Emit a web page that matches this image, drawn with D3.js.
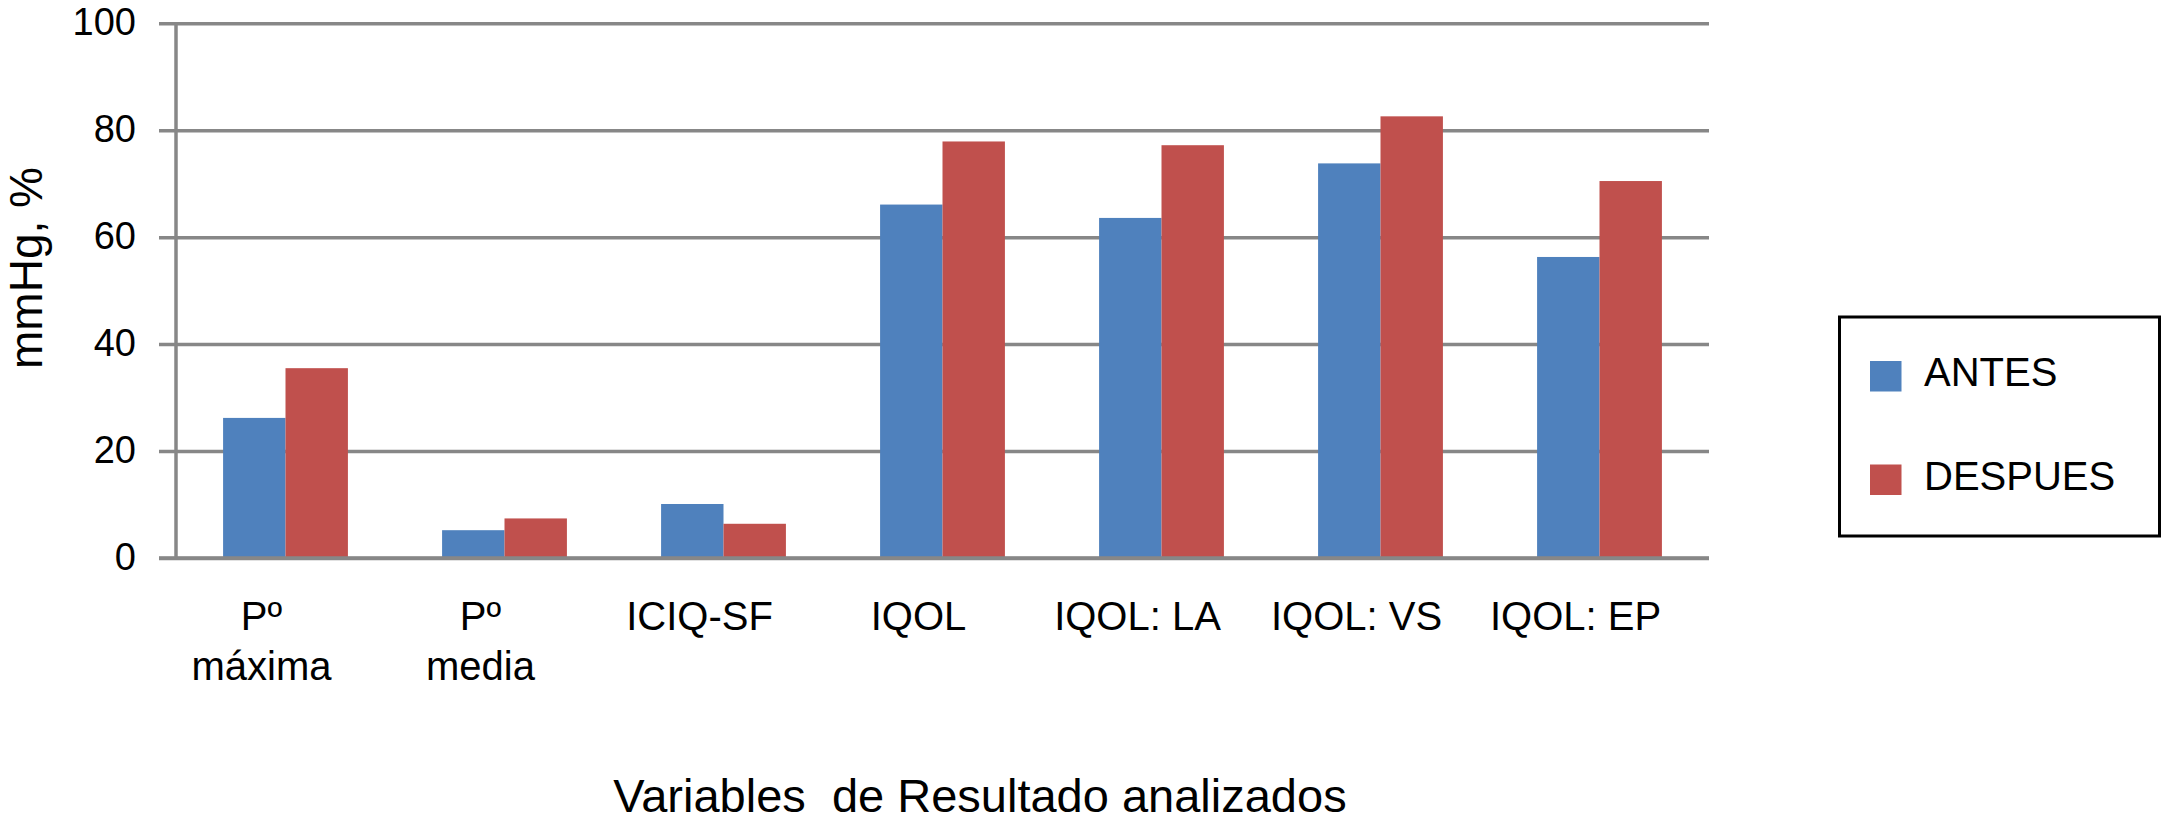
<!DOCTYPE html>
<html>
<head>
<meta charset="utf-8">
<script src="https://cdn.jsdelivr.net/npm/d3@7"></script>
<style>
  body { margin: 0; background: #fff; }
  text { font-family: "Liberation Sans", Arial, Helvetica, sans-serif; fill: #000; }
</style>
</head>
<body>
<script>
// categories (line breaks as in the original labels)
var categories = ["Pº\nmáxima", "Pº\nmedia", "ICIQ-SF", "IQOL", "IQOL: LA", "IQOL: VS", "IQOL: EP"];
var series = ["ANTES", "DESPUES"];
var antes   = [26.2, 5.2, 10.1, 66.1, 63.6, 73.8, 56.3];
var despues = [35.5, 7.4,  6.4, 77.9, 77.2, 82.6, 70.5];
var yTicks = [0, 20, 40, 60, 80, 100];
var colors = ["#4f81bd", "#c0504d"];

var W = 2162, H = 825;
/* plot edges (note: "top" would clash with window.top) */
var plotL = 176, plotR = 1709, plotT = 23.3, plotB = 558;

var svg = d3.select("body").append("svg")
    .attr("width", W)
    .attr("height", H);

var x0 = d3.scaleBand().domain(categories).range([plotL, plotR])
    .paddingInner(0.43).paddingOuter(0.215);
var x1 = d3.scaleBand().domain(series).range([0, x0.bandwidth()]);
var y = d3.scaleLinear().domain([0, 100]).range([plotB, plotT]);

/* gridlines + tick labels (axis sits at the right edge, ticks run left past the y axis) */
var gy = svg.append("g")
    .attr("transform", "translate(" + plotR + ",0)")
    .call(d3.axisLeft(y).tickValues(yTicks).tickSize(plotR - 159).tickPadding(23));
gy.select(".domain").remove();
gy.selectAll(".tick line").attr("stroke", "#878787").attr("stroke-width", 3.5);
gy.selectAll(".tick text")
    .attr("font-size", 38)
    .attr("dy", "0.3em")
    .style("font-family", '"Liberation Sans", Arial, sans-serif');

/* bars */
var rows = categories.map(function(c, i) { return {cat: c, vals: [antes[i], despues[i]]}; });
var grp = svg.selectAll(".grp").data(rows).enter().append("g")
    .attr("transform", function(d) { return "translate(" + x0(d.cat) + ",0)"; });
grp.selectAll("rect")
    .data(function(d) { return d.vals.map(function(v, j) { return {s: series[j], v: v, j: j}; }); })
    .enter().append("rect")
    .attr("x", function(d) { return x1(d.s); })
    .attr("y", function(d) { return y(d.v); })
    .attr("width", x1.bandwidth())
    .attr("height", function(d) { return y(0) - y(d.v); })
    .attr("fill", function(d) { return colors[d.j]; });

/* vertical axis line and baseline on top of bars */
svg.append("line")
    .attr("x1", plotL).attr("x2", plotL)
    .attr("y1", y(100)).attr("y2", y(0))
    .attr("stroke", "#878787").attr("stroke-width", 3.5);
svg.append("line")
    .attr("x1", 159).attr("x2", plotR)
    .attr("y1", y(0)).attr("y2", y(0))
    .attr("stroke", "#878787").attr("stroke-width", 3.5);

/* category labels */
var gx = svg.append("g")
    .attr("transform", "translate(-24," + plotB + ")")
    .call(d3.axisBottom(x0).tickSize(0).tickPadding(0));
gx.select(".domain").remove();
gx.selectAll(".tick text").each(function(d) {
    var t = d3.select(this).text(null)
        .attr("font-size", 40)
        .attr("y", 0)
        .attr("dy", null)
        .style("font-family", '"Liberation Sans", Arial, sans-serif');
    d.split("\n").forEach(function(line, k) {
        t.append("tspan").attr("x", 0).attr("y", 72 + k * 50).text(line);
    });
});

/* axis titles */
svg.append("text")
    .attr("transform", "translate(42,268) rotate(-90)")
    .attr("text-anchor", "middle")
    .attr("font-size", 46)
    .text("mmHg, %");
svg.append("text")
    .attr("x", 980).attr("y", 812)
    .attr("text-anchor", "middle")
    .attr("font-size", 47)
    .attr("xml:space", "preserve")
    .style("white-space", "pre")
    .text("Variables  de Resultado analizados");

/* legend */
var lg = svg.append("g");
lg.append("rect")
    .attr("x", 1839.5).attr("y", 317)
    .attr("width", 320).attr("height", 219)
    .attr("fill", "#fff").attr("stroke", "#000").attr("stroke-width", 3);
series.forEach(function(s, i) {
    lg.append("rect")
        .attr("x", 1870).attr("y", 361 + i * 103.5)
        .attr("width", 31.5).attr("height", 30.5)
        .attr("fill", colors[i]);
    lg.append("text")
        .attr("x", 1924).attr("y", 385.5 + i * 104.5)
        .attr("font-size", 40)
        .text(s);
});
</script>
</body>
</html>
